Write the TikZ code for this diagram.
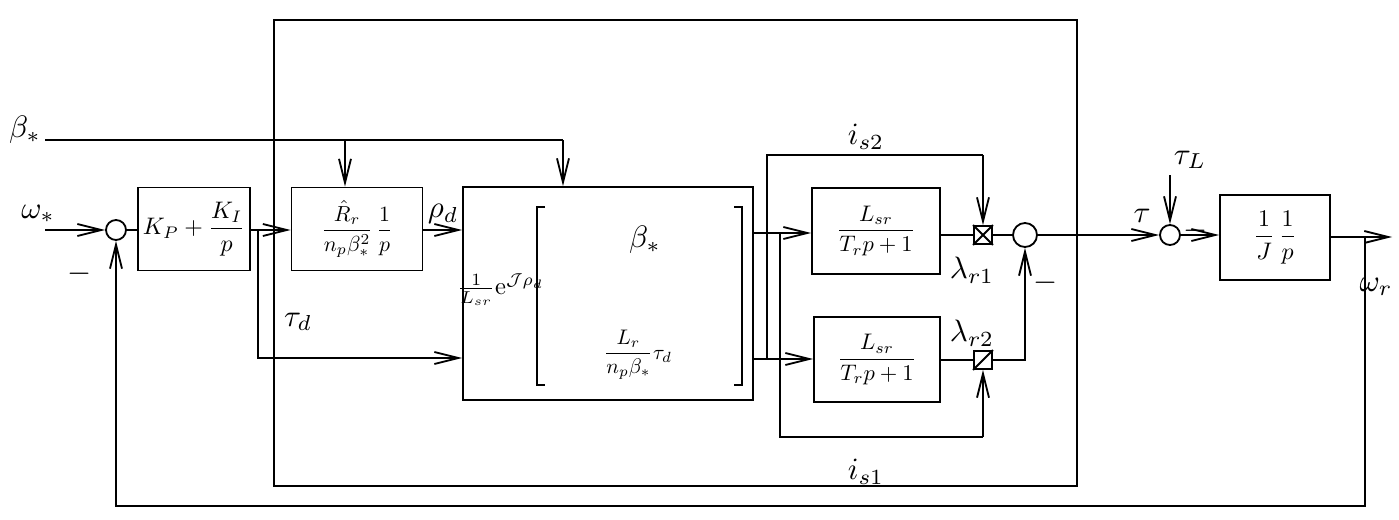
\documentclass[tikz,border=0pt]{standalone}
\usepackage{amsmath,amssymb,graphicx}
\usetikzlibrary{arrows.meta}
\newcommand{\SxL}[1]{\scalebox{4.4}{$#1$}}
\newcommand{\SxB}[2][3.2]{\scalebox{#1}{$#2$}}
\begin{document}
\begin{tikzpicture}[x=0.05cm,y=-0.05cm,line width=2.6pt,
  arr/.style={-{Straight Barb[length=1.2cm,width=0.6cm,line width=2.6pt]}},
  lab/.style={inner sep=0pt},
  blk/.style={draw,inner sep=0pt,line width=2.6pt},
  sumc/.style={draw,circle,minimum size=1cm,inner sep=0pt}]
\useasboundingbox (0,0) rectangle (1399,519);
% outer box
\draw (274,20) rectangle (1077,486);
% blocks
\node[blk,minimum width=5.6cm,minimum height=4.15cm] (K) at (194,229) {\SxB[3.4]{K_P+\dfrac{K_I}{p}}};
\node[sumc] (s1) at (116,230) {};
\node[blk,minimum width=6.55cm,minimum height=4.15cm] (R) at (357,229) {\SxB[3.1]{\dfrac{\hat R_r}{n_p\beta_*^2}\,\dfrac{1}{p}}};
\node[blk,minimum width=14.5cm,minimum height=10.65cm] (B) at (608,293.5) {};
\node[lab] (ex) at (501,290) {\SxB[3.5]{\frac{1}{L_{sr}}\mathrm{e}^{\mathcal{J}\rho_d}}};
\node[lab] (bs) at (645,240) {\SxL{\beta_*}};
\node[lab] (tf) at (638,355) {\SxB[3]{\dfrac{L_r}{n_p\beta_*}\tau_d}};
\draw (545,207) -- (537,207) -- (537,385) -- (545,385);
\draw (734,207) -- (742,207) -- (742,385) -- (734,385);
\node[blk,minimum width=6.4cm,minimum height=4.3cm] (F1) at (876,231) {\SxB{\dfrac{L_{sr}}{T_r p+1}}};
\node[blk,minimum width=6.3cm,minimum height=4.25cm] (F2) at (877,359.5) {\SxB{\dfrac{L_{sr}}{T_r p+1}}};
\node[draw,minimum size=0.9cm,inner sep=0pt] (M) at (983,235) {};
\draw (M.north west)--(M.south east) (M.north east)--(M.south west);
\node[draw,minimum size=0.9cm,inner sep=0pt] (D) at (983,360) {};
\draw (D.south west)--(D.north east);
\node[sumc,minimum size=1.2cm] (s2) at (1025,235) {};
\node[sumc] (s3) at (1170,235) {};
\node[blk,minimum width=5.5cm,minimum height=4.25cm] (J) at (1275,237.5) {\SxB[3.4]{\dfrac{1}{J}\,\dfrac{1}{p}}};
% coordinates
\coordinate (wi) at (45,230);
\coordinate (bi) at (45,140);
\coordinate (tl) at (1170,175);
\coordinate (out) at (1392,237);
% connections
\draw[arr] (wi) -- (s1);
\draw (s1) -- (K.west|-s1);
\draw[arr] (K.east|-0,230) -- (R.west|-0,230);
\draw[arr] (258,230) -- (258,358) -- (B.west|-0,358);
\draw[arr] (R.east|-0,230) -- (B.west|-0,230);
\draw (bi) -- (563,140);
\draw[arr] (345,140) -- (R.north-|345,0);
\draw[arr] (563,140) -- (B.north-|563,0);
\draw[arr] (B.east|-0,233) -- (F1.west|-0,233);
\draw[arr] (B.east|-0,359) -- (F2.west|-0,359);
\draw (767,359) -- (767,155) -- (983,155);
\draw[arr] (983,155) -- (M.north);
\draw (780,233) -- (780,437) -- (983,437);
\draw[arr] (983,437) -- (D.south);
\draw (F1.east|-M) -- (M.west);
\draw (M.east) -- (s2.west);
\draw (F2.east|-D) -- (D.west);
\draw[arr] (D.east) -- (1025,360) -- (s2.south);
\draw[arr] (s2.east) -- (s3.west);
\draw[arr] (tl) -- (s3.north);
\draw[arr] (s3.east) -- (J.west|-s3);
\draw[arr] (J.east|-0,237) -- (out);
\draw[arr] (1365,237) -- (1365,506) -- (116,506) -- (s1.south);
% labels
\node[lab] at (38,214) {\SxL{\omega_*}};
\node[lab] at (80,274) {\SxL{-}};
\node[lab] at (25,130) {\SxL{\beta_*}};
\node[lab] at (443,214) {\SxL{\rho_d}};
\node[lab] at (298,322) {\SxL{\tau_d}};
\node[lab] at (866,137) {\SxL{i_{s2}}};
\node[lab] at (866,472) {\SxL{i_{s1}}};
\node[lab] at (972,270) {\SxL{\lambda_{r1}}};
\node[lab] at (972,333) {\SxL{\lambda_{r2}}};
\node[lab] at (1046,283) {\SxL{-}};
\node[lab] at (1142,216) {\SxL{\tau}};
\node[lab] at (1190,160) {\SxL{\tau_L}};
\node[lab] at (1196,231) {\SxL{-}};
\node[lab] at (1376,287) {\SxL{\omega_r}};
\end{tikzpicture}
\end{document}
